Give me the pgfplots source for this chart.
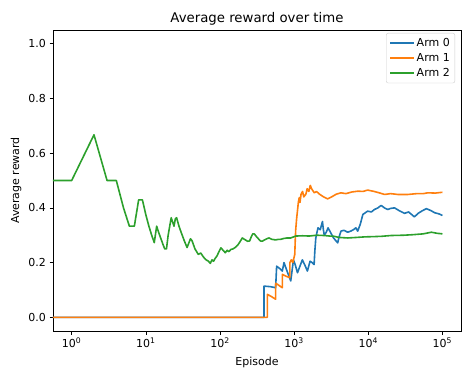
\documentclass[border=0pt]{standalone}
\usepackage{pgfplots}
\pgfplotsset{compat=1.18}
\usepackage{fontspec}
\setmainfont{DejaVu Sans}
\definecolor{c0}{HTML}{1F77B4}
\definecolor{c1}{HTML}{FF7F0E}
\definecolor{c2}{HTML}{2CA02C}
\begin{document}
\begin{tikzpicture}
\useasboundingbox (-53pt,-44pt) rectangle (421pt,331pt);
\begin{axis}[
  at={(0pt,0pt)}, anchor=south west,
  scale only axis,
  width=408pt, height=301pt,
  xmode=log, log basis x=10,
  xmin=0.56, xmax=1.78e5,
  ymin=-0.05, ymax=1.05,
  ytick={0,0.2,0.4,0.6,0.8,1.0},
  yticklabel style={/pgf/number format/.cd,fixed,fixed zerofill,precision=1,assume math mode=true},
  xtick={1,10,100,1000,10000,100000},
  xticklabel={10\textsuperscript{\pgfmathparse{int(round(\tick))}\pgfmathresult}},
  tick align=outside,
  tick pos=left,
  major tick length=3.5pt,
  minor tick length=2pt,
  tick style={black, line width=0.6pt},
  axis line style={line width=0.6pt},
  ticklabel style={font=\fontsize{11}{13}\selectfont},
  title style={font=\fontsize{13.3}{15}\selectfont, at={(axis description cs:0.5,1.0399)}, anchor=center, yshift=-7pt},
  xlabel style={font=\fontsize{11}{13}\selectfont, at={(axis description cs:0.5,-0.103)}, anchor=center},
  ylabel style={font=\fontsize{11}{13}\selectfont, at={(axis description cs:-0.0907,0.5)}, anchor=center},
  title={Average reward over time},
  xlabel={Episode},
  ylabel={Average reward},
  legend style={at={(rel axis cs:1,1)}, xshift=-6pt, yshift=-3pt, anchor=north east, draw=black!20, rounded corners=2pt,
    fill=white, font=\fontsize{11}{13}\selectfont,
    row sep=1.5pt, inner sep=3pt},
  legend cell align=left,
  legend image code/.code={\draw[#1] (0cm,0cm) -- (0.84cm,0cm);},
]
\addplot[c0, line width=1.6pt, line join=round] coordinates {
(0.5,0) (392,0) (393,0.114) (480,0.112) (563,0.108) (581,0.187) (640,0.178) (693,0.169)
(730,0.2) (800,0.17) (900,0.133) (980,0.21) (1040,0.19) (1110,0.163) (1290,0.21)
(1400,0.19) (1510,0.169) (1640,0.205) (1750,0.2) (1860,0.193) (1900,0.24) (1960,0.29)
(2030,0.31) (2100,0.327) (2250,0.32) (2410,0.35) (2480,0.32) (2550,0.3) (2700,0.31)
(2870,0.327) (3100,0.31) (3400,0.29) (3870,0.272) (4000,0.29) (4280,0.315) (4700,0.318)
(5270,0.311) (5800,0.315) (6300,0.32) (6800,0.327) (7200,0.315) (7800,0.34) (8450,0.376)
(9800,0.388) (11000,0.385) (12100,0.394) (13500,0.4) (14900,0.409) (16500,0.4)
(18300,0.394) (20000,0.398) (22600,0.4) (26000,0.39) (30800,0.38) (35000,0.385)
(41900,0.367) (47000,0.38) (54000,0.39) (60800,0.397) (70000,0.39) (78900,0.382)
(90000,0.378) (100000,0.372)
};
\addlegendentry{Arm 0}
\addplot[c1, line width=1.6pt, line join=round] coordinates {
(0.5,0) (435,0) (436,0.084) (500,0.075) (563,0.066) (564,0.124) (600,0.12) (693,0.108)
(694,0.157) (780,0.15) (875,0.145) (876,0.2) (915,0.21) (960,0.2) (1020,0.23) (1035,0.28)
(1050,0.32) (1080,0.36) (1110,0.39) (1140,0.42) (1170,0.437) (1200,0.42) (1240,0.45)
(1300,0.46) (1350,0.44) (1440,0.45) (1500,0.47) (1580,0.46) (1650,0.482) (1720,0.47)
(1870,0.455) (2000,0.46) (2200,0.45) (2500,0.44) (2830,0.433) (3200,0.44) (3700,0.45)
(4280,0.455) (5000,0.452) (6000,0.458) (7250,0.461) (8500,0.46) (9800,0.465)
(12000,0.46) (14000,0.455) (16600,0.449) (20000,0.452) (25000,0.449) (34300,0.449)
(45000,0.452) (55000,0.452) (63600,0.455) (80000,0.454) (100000,0.457)
};
\addlegendentry{Arm 1}
\addplot[c2, line width=1.6pt, line join=round] coordinates {
(0.5,0.5) (1,0.5) (2,0.667) (3,0.5) (4,0.5) (5,0.4) (6,0.333) (7,0.333) (8,0.429)
(9,0.429) (10,0.375) (11,0.333) (12,0.3) (13,0.273) (14,0.333) (15,0.308) (17,0.267)
(18,0.25) (19,0.25) (20,0.3) (21,0.333) (22,0.364) (23,0.348) (24,0.333) (25,0.36)
(26,0.364) (28,0.333) (30,0.31) (33,0.28) (36,0.255) (40,0.287) (42,0.28) (46,0.25)
(51,0.23) (55,0.235) (60,0.22) (65,0.21) (70,0.205) (74,0.197) (78,0.21) (82,0.205)
(86,0.215) (91,0.224) (97,0.24) (103,0.254) (110,0.245) (118,0.236) (125,0.245)
(132,0.24) (140,0.248) (150,0.25) (160,0.255) (175,0.265) (190,0.28) (200,0.29)
(208,0.287) (220,0.283) (235,0.278) (251,0.279) (265,0.295) (277,0.305) (290,0.305)
(310,0.295) (335,0.285) (352,0.279) (370,0.278) (400,0.283) (436,0.288) (460,0.29)
(500,0.285) (560,0.283) (620,0.285) (660,0.285) (720,0.288) (800,0.29) (900,0.29)
(1050,0.297) (1300,0.298) (1600,0.297) (2000,0.3) (2540,0.299) (3000,0.297)
(3500,0.296) (4000,0.292) (5300,0.29) (7000,0.292) (9000,0.294) (12000,0.295)
(15000,0.296) (20400,0.299) (30000,0.3) (40000,0.302) (55000,0.305) (71000,0.311)
(85000,0.307) (100000,0.305)
};
\addlegendentry{Arm 2}
\end{axis}
\end{tikzpicture}
\end{document}
